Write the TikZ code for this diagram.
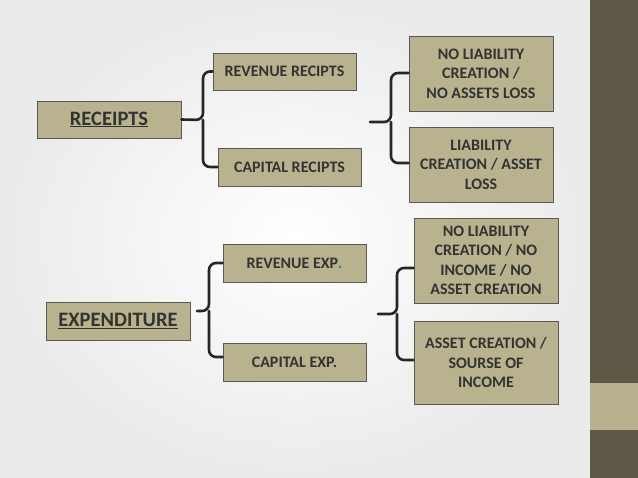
\documentclass[tikz,border=0pt]{standalone}
\usepackage{fontspec}
\setmainfont{Carlito}
\begin{document}
\begin{tikzpicture}[x=1pt,y=-1pt,
  box/.style={draw=black!65,line width=0.9pt,fill=boxc,font=\bfseries\fontsize{16}{19.5}\selectfont,align=center,text=black!80,inner sep=0pt},
  brace/.style={draw=black!85,line width=2.6pt,rounded corners=7pt,line cap=round}]
\definecolor{boxc}{HTML}{B8B38E}
\definecolor{band}{HTML}{5E5946}
\definecolor{bandl}{HTML}{B6B18C}
\useasboundingbox (0,0) rectangle (638,478);
\shade[inner color=white,outer color=black!8] (0,0) rectangle (590,478);
\fill[band] (590,0) rectangle (638,478);
\fill[bandl] (590,383) rectangle (638,430);
\node[box,minimum width=144,minimum height=37] (rc) at (109,119.5) {\fontsize{20.5}{24}\selectfont\underline{RECEIPTS}};
\node[box,minimum width=143,minimum height=37] (rr) at (284.5,71.5) {REVENUE RECIPTS};
\node[box,minimum width=143,minimum height=38] (cr) at (289.5,167) {CAPITAL RECIPTS};
\node[box,minimum width=144,minimum height=75] (nl) at (481,73.5) {NO LIABILITY\\CREATION /\\NO ASSETS LOSS};
\node[box,minimum width=144,minimum height=75] (lc) at (481,164.5) {LIABILITY\\CREATION / ASSET\\LOSS};
\node[box,minimum width=144,minimum height=38] (ex) at (118,321) {\fontsize{20.5}{24}\selectfont\underline{EXPENDITURE}};
\node[box,minimum width=143,minimum height=38] (re) at (294.5,263) {REVENUE EXP\textcolor{cyan!70!blue}{.}};
\node[box,minimum width=143,minimum height=38] (ce) at (294.5,362) {CAPITAL EXP.};
\node[box,minimum width=144,minimum height=85] (ni) at (486,260.5) {NO LIABILITY\\CREATION / NO\\INCOME / NO\\ASSET CREATION};
\node[box,minimum width=144,minimum height=83] (ac) at (486,362.5) {ASSET CREATION /\\SOURSE OF\\INCOME};
% braces
\draw[brace] (rr.west) -- (203,71.5) -- (203,120) -- (rc.east) (203,120) -- (203,167) -- (cr.west);
\draw[brace] (nl.west|-0,73) -- (391,73) -- (391,122) -- (370,122) (391,122) -- (391,163) -- (lc.west|-0,163);
\draw[brace] (re.west) -- (209,263) -- (209,311) -- (197,311) (209,311) -- (209,357) -- (ce.west|-0,357);
\draw[brace] (ni.west|-0,268) -- (397,268) -- (397,314) -- (378,314) (397,314) -- (397,360) -- (ac.west|-0,360);
\end{tikzpicture}
\end{document}
